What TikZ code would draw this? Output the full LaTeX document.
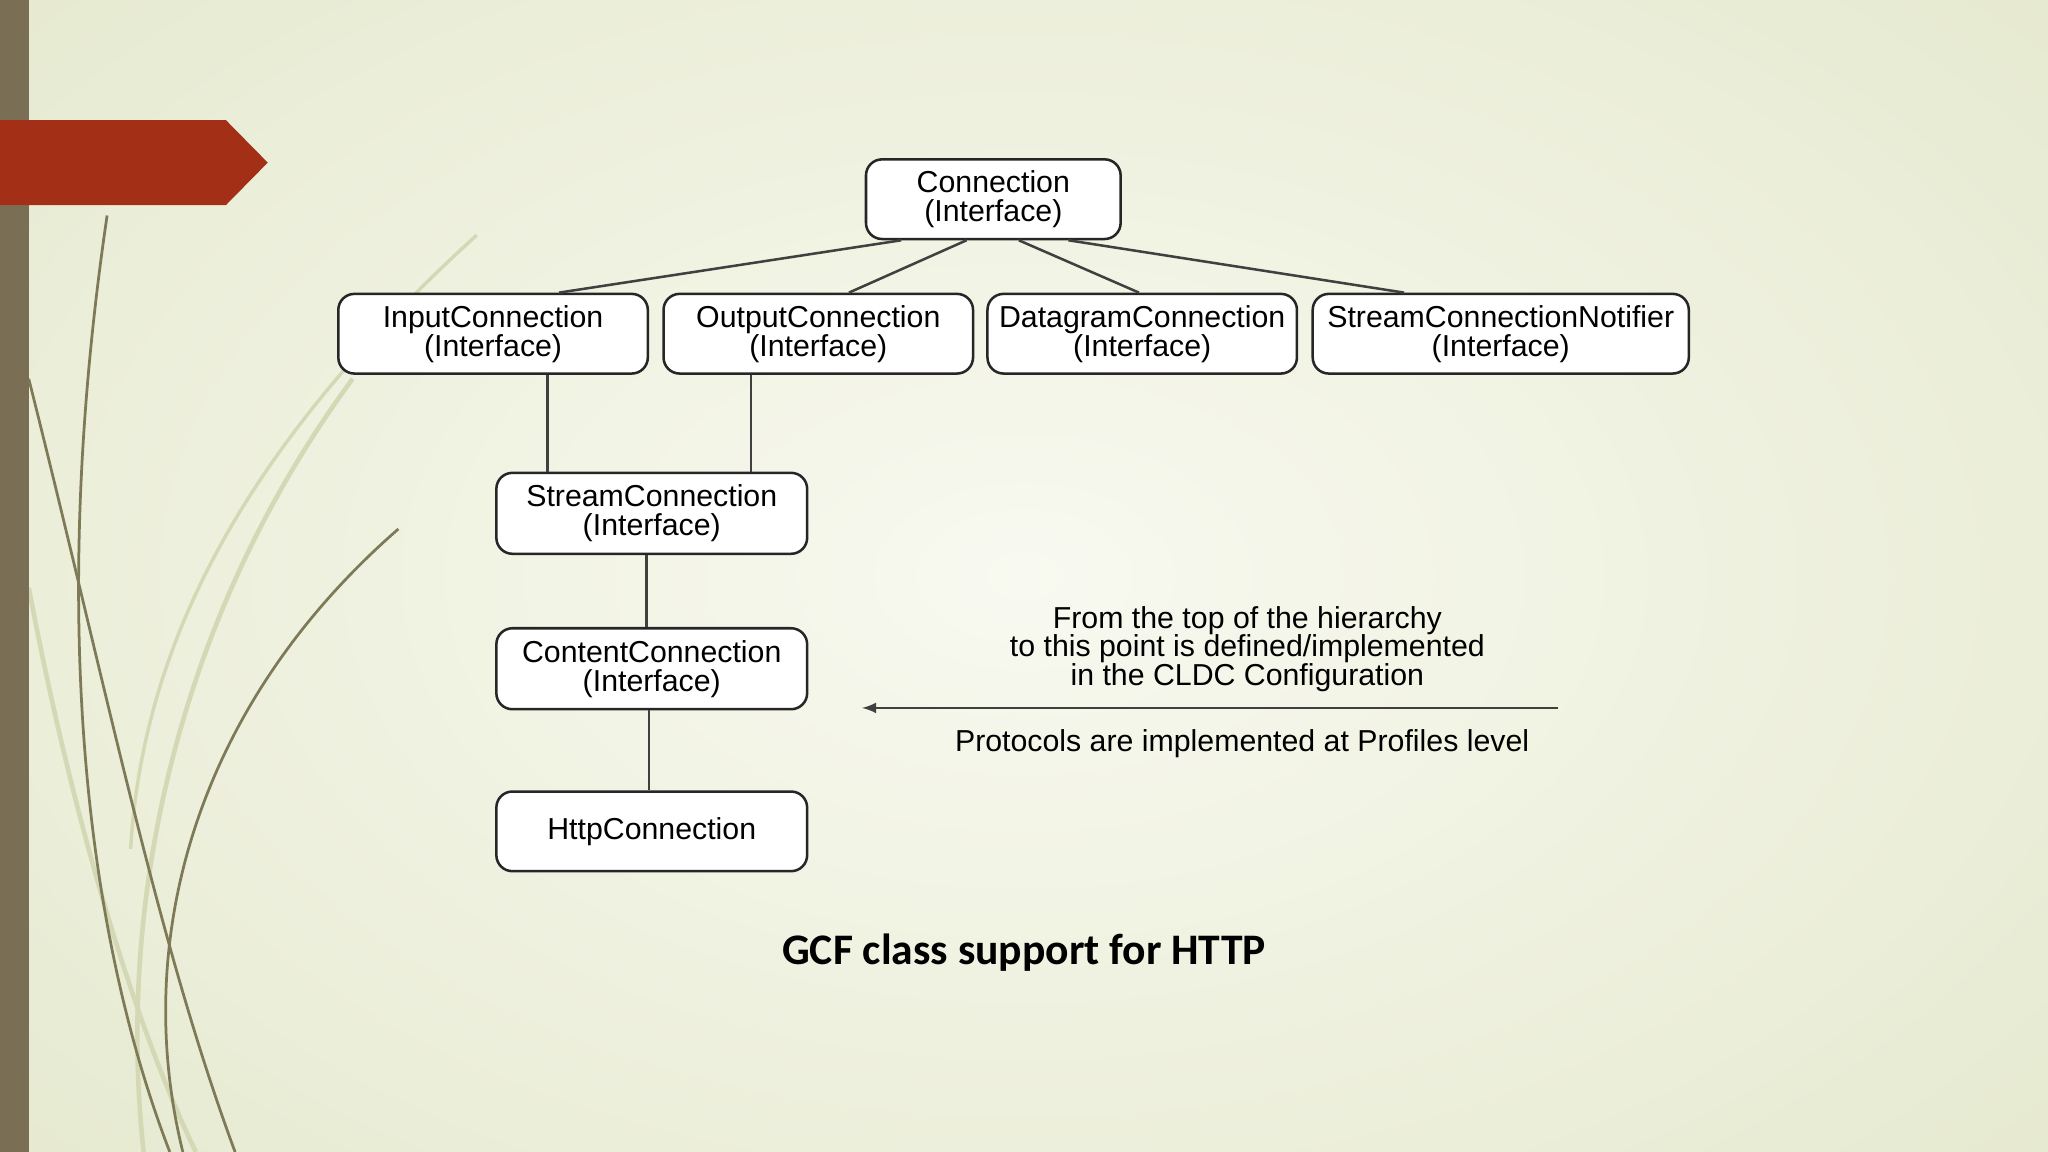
\documentclass[tikz,border=0pt]{standalone}
\usepackage{fontspec}
\setmainfont{Liberation Sans}
\newfontfamily\titlefont{Carlito}
\definecolor{bgA}{HTML}{E4E8CC}
\definecolor{bgB}{HTML}{F8F9F0}
\definecolor{barc}{HTML}{7A6E55}
\definecolor{redc}{HTML}{A33016}
\definecolor{decc}{HTML}{7E7A58}
\definecolor{decl}{HTML}{D4D8B4}
\begin{document}
\begin{tikzpicture}[x=0.02cm,y=-0.02cm,
 box/.style={draw=black!85,line width=1.1pt,rounded corners=7pt,fill=white,align=center,inner sep=0pt,font=\fontsize{13.2}{12.6}\selectfont},
 ln/.style={draw=black!75,line width=1.1pt},
 deco/.style={draw=decc,line width=1.2pt}]
\useasboundingbox (0,0) rectangle (1568,882);
\shade[inner color=bgB,outer color=bgA] (-400,-300) rectangle (1968,1182);
% decorative curves
\draw[deco,draw=decl,line width=2pt] (270,290) .. controls (130,480) and (90,700) .. (110,882);
\draw[deco,draw=decl,line width=2pt] (22,450) .. controls (60,650) and (110,800) .. (150,882);
\draw[deco,draw=decl,line width=1.5pt] (365,180) .. controls (200,330) and (110,480) .. (100,650);
\draw[deco] (22,290) .. controls (80,520) and (120,720) .. (180,882);
\draw[deco] (82,165) .. controls (40,450) and (60,700) .. (130,882);
\draw[deco] (305,405) .. controls (150,540) and (100,720) .. (140,882);
\fill[barc] (0,0) rectangle (22,882);
\fill[redc] (0,92) -- (173,92) -- (205,124.5) -- (173,157) -- (0,157) -- cycle;
% nodes
\node[box,minimum width=3.9cm,minimum height=1.22cm] (c) at (760.5,152.5) {Connection\\(Interface)};
\node[box,minimum width=4.74cm,minimum height=1.22cm] (in) at (377.5,255.5) {InputConnection\\(Interface)};
\node[box,minimum width=4.74cm,minimum height=1.22cm] (out) at (626.5,255.5) {OutputConnection\\(Interface)};
\node[box,minimum width=4.74cm,minimum height=1.22cm] (dg) at (874.5,255.5) {DatagramConnection\\(Interface)};
\node[box,minimum width=5.76cm,minimum height=1.22cm] (sn) at (1149,255.5) {StreamConnectionNotifier\\(Interface)};
\node[box,minimum width=4.76cm,minimum height=1.24cm] (sc) at (499,393) {StreamConnection\\(Interface)};
\node[box,minimum width=4.76cm,minimum height=1.24cm] (cc) at (499,512) {ContentConnection\\(Interface)};
\node[box,minimum width=4.76cm,minimum height=1.22cm] (hc) at (499,636.5) {HttpConnection};
% connectors
\draw[ln] (c.south -| 690,0) -- (in.north -| 428,0);
\draw[ln] (c.south -| 740,0) -- (out.north -| 650,0);
\draw[ln] (c.south -| 780,0) -- (dg.north -| 872,0);
\draw[ln] (c.south -| 818,0) -- (sn.north -| 1075,0);
\draw[ln] (in.south -| 419,0) -- (sc.north -| 419,0);
\draw[ln] (out.south -| 575,0) -- (sc.north -| 575,0);
\draw[ln] (sc.south -| 495,0) -- (cc.north -| 495,0);
\draw[ln] (cc.south -| 497,0) -- (hc.north -| 497,0);
% annotation
\coordinate (a1) at (1193,542);
\coordinate (a2) at (660,542);
\draw[ln,-latex] (a1) -- (a2);
\node[align=center,font=\fontsize{13.2}{12.6}\selectfont] (t1) at (955,497) {From the top of the hierarchy\\to this point is defined/implemented\\in the CLDC Configuration};
\node[font=\fontsize{13.2}{12.6}\selectfont] (t2) at (951,569) {Protocols are implemented at Profiles level};
\node[font=\titlefont\bfseries\fontsize{19}{22}\selectfont] (title) at (784,729) {GCF class support for HTTP};
\end{tikzpicture}
\end{document}
